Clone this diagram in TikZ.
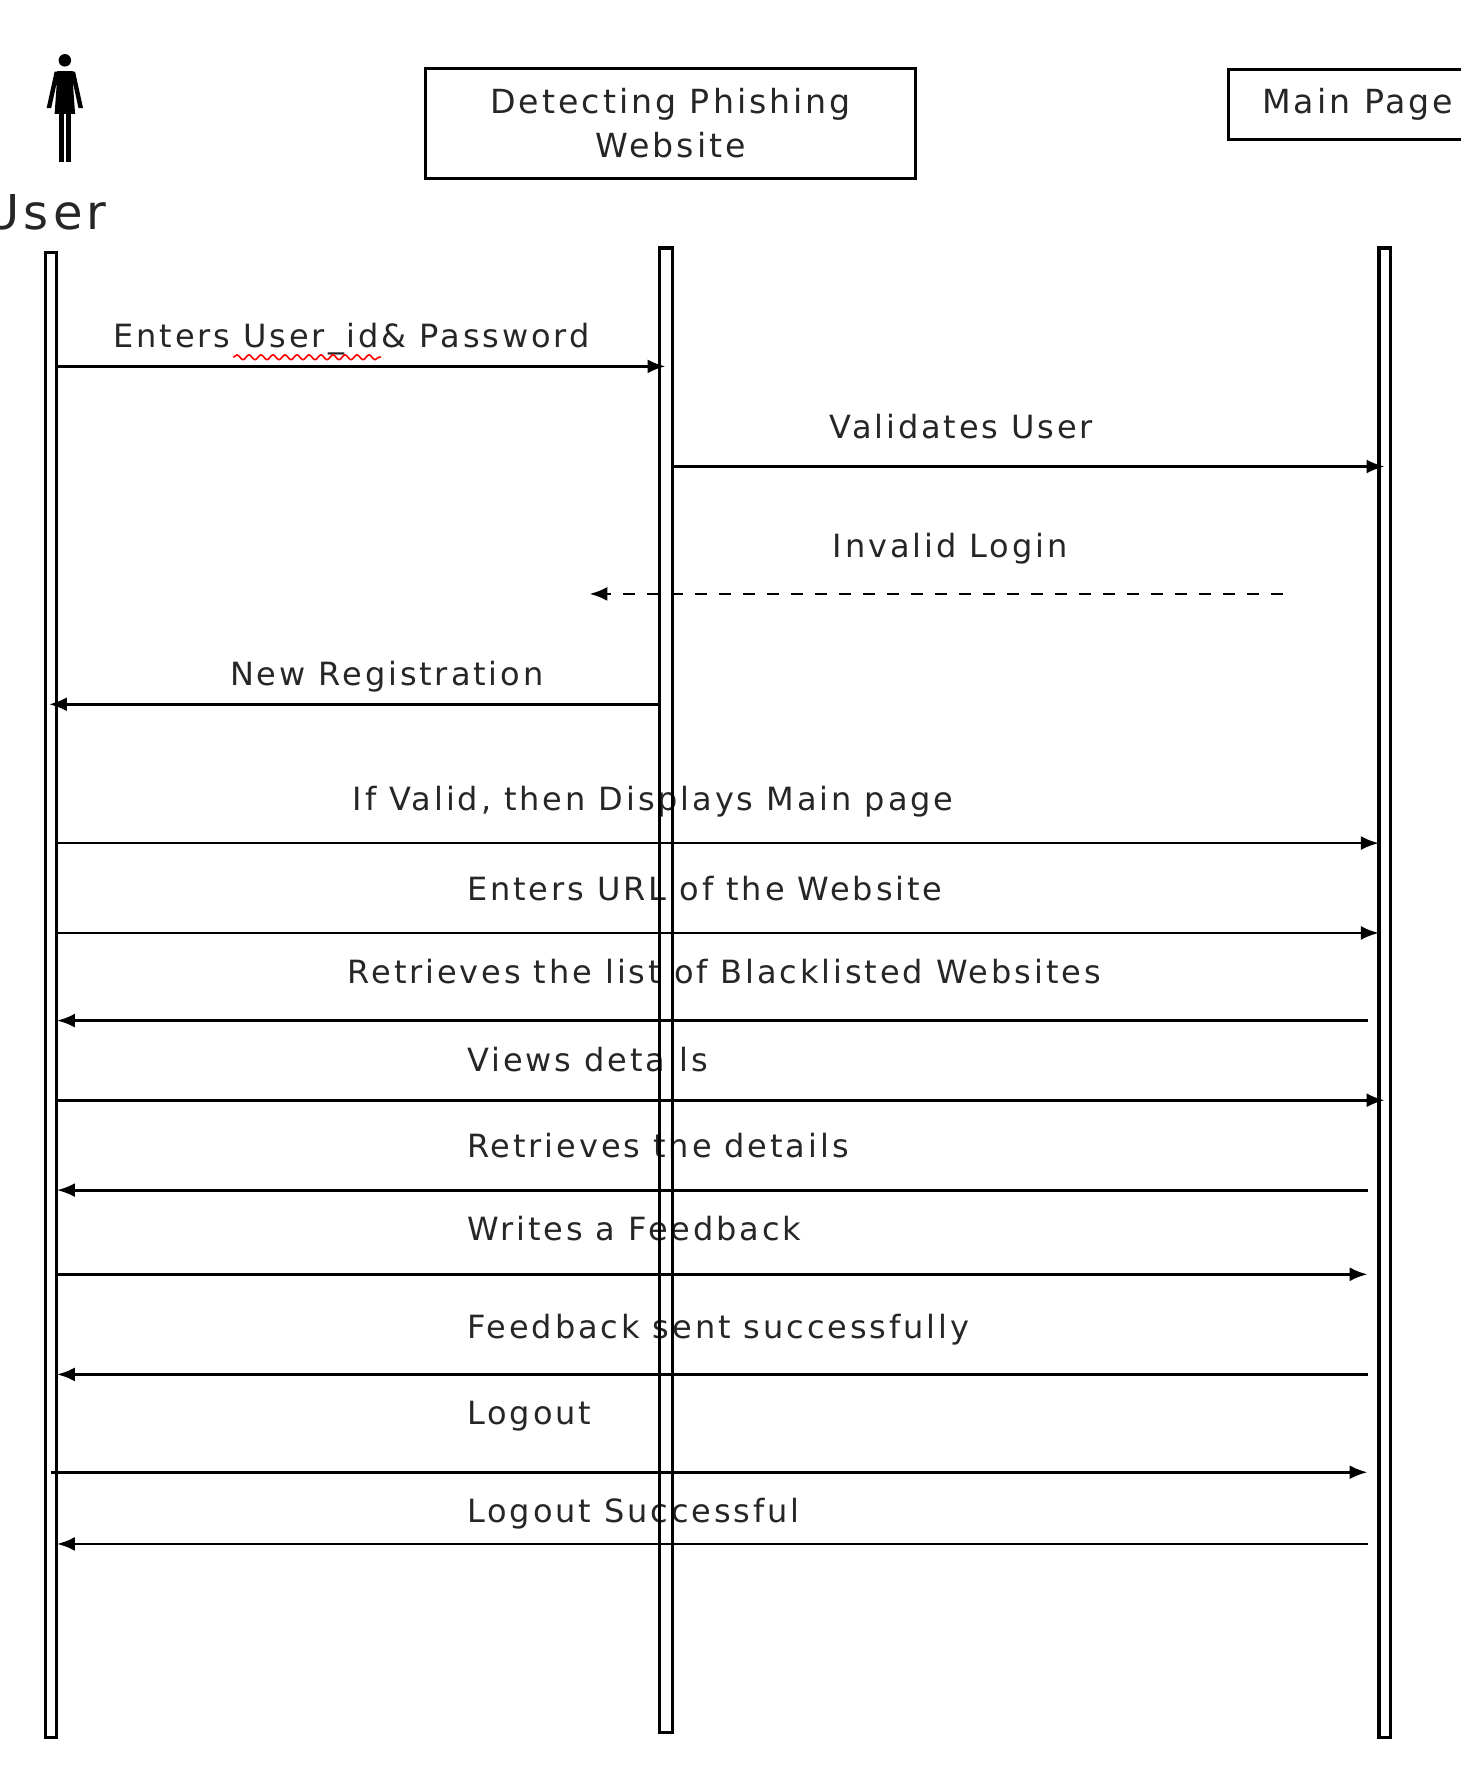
\documentclass[tikz,border=0pt]{standalone}
\usepackage{fontspec}
\setmainfont{DejaVu Sans}
\newfontfamily\lblfont[LetterSpace=9]{DejaVu Sans}
\usetikzlibrary{arrows.meta,decorations.pathmorphing}
\begin{document}
\begin{tikzpicture}[x=0.01cm,y=-0.01cm,
  msg/.style={draw=black,line width=0.7pt,-{Latex[length=4.5pt,width=3.5pt]}},
  ret/.style={msg,dashed},
  lbl/.style={font=\lblfont\fontsize{8}{9}\selectfont,inner sep=0pt,text=black!85},
  life/.style={draw,line width=0.8pt},
  box/.style={draw,line width=0.8pt,font=\lblfont\fontsize{8.3}{11}\selectfont,align=center,text=black!85}]
\useasboundingbox (0,0) rectangle (1284,1568);
% actor
\fill (57,53) circle (5.5);
\fill (50,62) rectangle (64,64);
\fill (48,63) -- (66,63) -- (73,95) -- (69,95) -- (64,72) -- (66,100) -- (48,100) -- (50,72) -- (45,95) -- (41,95) -- cycle;
\fill (52,100) rectangle (56,142);
\fill (58,100) rectangle (62,142);
\node[lbl,font=\lblfont\fontsize{12}{14}\selectfont,anchor=center] (user) at (40,187) {User};
% boxes
\node[box,minimum width=431*0.01cm,minimum height=97*0.01cm] (dpw) at (589.5,108.5) {Detecting Phishing\\Website};
\node[box,minimum width=212*0.01cm,minimum height=61*0.01cm,anchor=north west,align=left,inner xsep=0.3cm] (mp) at (1078,60) {Main Page};
% coordinates
\foreach \n/\y in {a/322,b/410,c/522,d/619,e/741,f/820,g/897,h/967,i/1046,j/1120,k/1208,l/1294,m/1357}{
  \coordinate (u\n) at (50,\y);
  \coordinate (v\n) at (591,\y);
  \coordinate (vl\n) at (580,\y);
  \coordinate (r\n) at (1212,\y);
  \coordinate (rl\n) at (1202,\y);
}
\coordinate (cs) at (1128,522); \coordinate (ce) at (518,522);
\coordinate (ul) at (45,1294);
\draw[msg] (ua) -- (585,322);
\draw[msg] (vb) -- (1217,410);
\draw[ret] (cs) -- (ce);
\draw[msg] (vld) -- (43,619);
\draw[msg] (ue) -- (re);
\draw[msg] (uf) -- (rf);
\draw[msg] (rlg) -- (ug);
\draw[msg] (uh) -- (1217,967);
\draw[msg] (rli) -- (ui);
\draw[msg] (uj) -- (rlj);
\draw[msg] (rlk) -- (uk);
\draw[msg] (ul) -- (rll);
\draw[msg] (rlm) -- (um);
% labels
\node[lbl] (la) at (309,298) {Enters User\_id\& Password};
\draw[red,line width=0.4pt,decorate,decoration={snake,amplitude=0.6pt,segment length=3pt}] (205,314) -- (335,314);
\node[lbl] (lb) at (845,375) {Validates User};
\node[lbl] (lc) at (835,482) {Invalid Login};
\node[lbl] (ld) at (340,595) {New Registration};
\node[lbl] (le) at (574,705) {If Valid, then Displays Main page};
\node[lbl,anchor=west] (lf) at (410,781) {Enters URL of the Website};
\node[lbl,anchor=west] (lg) at (305,854) {Retrieves the list of Blacklisted Websites};
\node[lbl,anchor=west] (lh) at (410,931) {Views details};
\node[lbl,anchor=west] (li) at (410,1007) {Retrieves the details};
\node[lbl,anchor=west] (lj) at (410,1080) {Writes a Feedback};
\node[lbl,anchor=west] (lk) at (410,1169) {Feedback sent successfully};
\node[lbl,anchor=west] (ll) at (410,1245) {Logout};
\node[lbl,anchor=west] (lm) at (410,1330) {Logout Successful};
% lifelines
\draw[life] (40,222) rectangle (50,1527);
\draw[life] (580,218) rectangle (591,1523);
\draw[life] (1212,218) rectangle (1222,1527);
\end{tikzpicture}
\end{document}
